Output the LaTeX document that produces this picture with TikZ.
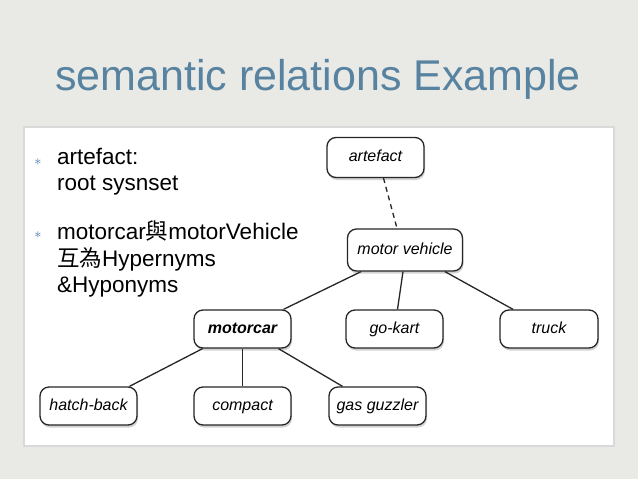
\documentclass[tikz,border=0pt]{standalone}
\usepackage{fontspec}
\setmainfont{Liberation Sans}
\newfontfamily\cjk{Noto Sans CJK TC}
\usetikzlibrary{shadows}
\definecolor{bg}{RGB}{233,233,230}
\definecolor{ttl}{RGB}{88,131,160}
\definecolor{bul}{RGB}{70,120,170}
\begin{document}
\begin{tikzpicture}[x=1pt,y=-1pt,
  box/.style={draw=black!85,line width=1.3pt,rounded corners=9pt,fill=white,
    drop shadow={shadow xshift=1pt,shadow yshift=-2.5pt,opacity=0.35},
    font=\itshape\fontsize{16}{18}\selectfont,inner sep=0pt,text height=11pt,text depth=3pt},
  ln/.style={line width=1.3pt,draw=black!85},
  txt/.style={font=\fontsize{22.5}{26.5}\selectfont,anchor=north west,align=left,inner sep=0pt}]
\useasboundingbox[fill=bg] (0,0) rectangle (638,479);
\node[font=\fontsize{43}{45}\selectfont,text=ttl,anchor=base west,inner sep=0pt] (title) at (55,90) {semantic relations Example};
\draw[fill=white,draw=black!15,line width=2pt] (24,127) rectangle (614,446);
\node[text=bul,font=\Large] (b1) at (38,162) {$\ast$};
\node[text=bul,font=\Large] (b2) at (38,235) {$\ast$};
\node[txt] (t1) at (57,148) {artefact:\\root sysnset};
\node[txt] (t2) at (57,221) {motorcar{\cjk 與}motorVehicle\\{\cjk 互為}Hypernyms\\\&Hyponyms};
\node[box,minimum width=97pt,minimum height=40pt] (art) at (375.5,157.5) {artefact};
\node[box,minimum width=115pt,minimum height=42pt] (mv) at (405,250) {motor vehicle};
\node[box,minimum width=97pt,minimum height=38pt,font=\bfseries\itshape\fontsize{16}{18}\selectfont] (mc) at (242.5,329) {motorcar};
\node[box,minimum width=97pt,minimum height=38pt] (gk) at (394.5,329) {go-kart};
\node[box,minimum width=98pt,minimum height=38pt] (tr) at (549,329) {truck};
\node[box,minimum width=97pt,minimum height=38pt] (hb) at (88.5,406) {hatch-back};
\node[box,minimum width=97pt,minimum height=38pt] (cp) at (242.5,406) {compact};
\node[box,minimum width=97pt,minimum height=38pt] (gg) at (377.5,406) {gas guzzler};
\draw[ln,dashed,dash pattern=on 5pt off 4pt] ([xshift=8pt]art.south) -- ([xshift=-8pt]mv.north);
\draw[ln] ([xshift=-44pt]mv.south) -- ([xshift=41pt]mc.north);
\draw[ln] ([xshift=-2pt]mv.south) -- ([xshift=3pt]gk.north);
\draw[ln] ([xshift=40pt]mv.south) -- ([xshift=-36pt]tr.north);
\draw[ln] ([xshift=-40pt]mc.south) -- ([xshift=41pt]hb.north);
\draw[ln] (mc.south) -- (cp.north);
\draw[ln] ([xshift=36pt]mc.south) -- ([xshift=-35pt]gg.north);
\end{tikzpicture}
\end{document}
